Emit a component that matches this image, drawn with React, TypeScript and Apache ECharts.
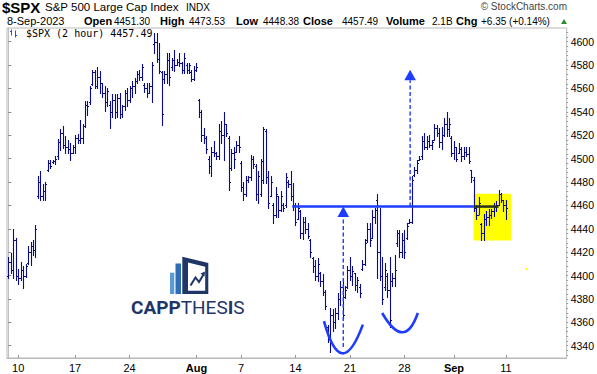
import React, { useEffect, useRef } from "react";
import * as echarts from "echarts";

// ---- price bars, [open, high, low, close] per 2-hour bar, in order ----
const barsJulEarly: number[][] = [
  [4400, 4416, 4398, 4412], [4412, 4419, 4402, 4405], [4405, 4440, 4398, 4430], [4430, 4432, 4396, 4400],
  [4400, 4406, 4393, 4398], [4398, 4412, 4396, 4405], [4405, 4408, 4389, 4400], [4400, 4410, 4399, 4408],
  [4411, 4425, 4410, 4420], [4420, 4429, 4409, 4425], [4425, 4430, 4418, 4422], [4422, 4443, 4416, 4440],
  [4468, 4485, 4466, 4480], [4480, 4489, 4465, 4468], [4468, 4478, 4465, 4472], [4472, 4480, 4465, 4478],
  [4490, 4499, 4489, 4496], [4496, 4499, 4492, 4494], [4497, 4499, 4496, 4498], [4498, 4502, 4495, 4500],
  [4502, 4517, 4500, 4514], [4514, 4525, 4507, 4522], [4522, 4528, 4509, 4512], [4512, 4519, 4505, 4510],
  [4510, 4516, 4505, 4508], [4508, 4513, 4499, 4505], [4505, 4512, 4505, 4510], [4510, 4520, 4505, 4518],
  [4518, 4521, 4513, 4516], [4516, 4533, 4513, 4518], [4518, 4530, 4513, 4528], [4528, 4549, 4527, 4546],
  [4546, 4549, 4537, 4545], [4548, 4562, 4547, 4560], [4564, 4576, 4563, 4574], [4574, 4576, 4560, 4562],
  [4562, 4578, 4560, 4570], [4570, 4575, 4556, 4565], [4565, 4565, 4553, 4556], [4556, 4562, 4541, 4548],
];
const barsJulLate: number[][] = [
  [4548, 4560, 4545, 4558], [4546, 4549, 4526, 4540], [4540, 4555, 4536, 4550], [4550, 4555, 4535, 4540],
  [4540, 4555, 4536, 4552], [4552, 4556, 4535, 4538], [4538, 4546, 4536, 4545], [4545, 4559, 4542, 4556],
  [4556, 4560, 4545, 4550], [4550, 4562, 4548, 4560], [4560, 4566, 4553, 4562], [4562, 4569, 4556, 4566],
  [4566, 4575, 4565, 4572], [4572, 4576, 4567, 4570], [4570, 4581, 4567, 4578], [4563, 4565, 4557, 4560],
  [4560, 4565, 4553, 4556], [4556, 4565, 4556, 4562], [4562, 4583, 4548, 4580], [4598, 4607, 4590, 4600],
  [4600, 4607, 4583, 4585], [4585, 4599, 4573, 4575], [4574, 4575, 4529, 4538], [4568, 4575, 4565, 4572],
  [4572, 4590, 4565, 4584], [4584, 4590, 4563, 4570], [4578, 4586, 4576, 4584], [4584, 4593, 4575, 4580],
  [4580, 4585, 4580, 4583], [4583, 4590, 4579, 4582], [4582, 4583, 4573, 4576], [4576, 4590, 4573, 4586],
  [4580, 4582, 4573, 4576], [4576, 4582, 4573, 4580], [4574, 4576, 4566, 4568], [4568, 4579, 4567, 4576],
  [4576, 4582, 4575, 4578], [4550, 4551, 4536, 4540], [4540, 4542, 4515, 4520], [4520, 4526, 4513, 4518],
];
const barsAugEarly: number[][] = [
  [4518, 4519, 4505, 4508], [4500, 4502, 4488, 4494], [4494, 4510, 4485, 4506], [4506, 4515, 4502, 4505],
  [4505, 4506, 4500, 4502], [4502, 4530, 4500, 4524], [4524, 4532, 4513, 4520], [4520, 4540, 4499, 4530],
  [4530, 4530, 4519, 4522], [4518, 4519, 4473, 4480], [4492, 4508, 4490, 4505], [4505, 4510, 4492, 4500],
  [4506, 4515, 4506, 4512], [4512, 4519, 4506, 4510], [4496, 4498, 4472, 4476], [4476, 4480, 4465, 4470],
  [4470, 4485, 4468, 4482], [4482, 4485, 4480, 4484], [4484, 4503, 4482, 4500], [4500, 4502, 4492, 4495],
  [4494, 4495, 4465, 4470], [4470, 4489, 4462, 4485], [4470, 4500, 4468, 4498], [4482, 4527, 4479, 4525],
  [4524, 4525, 4479, 4484], [4484, 4489, 4458, 4462], [4468, 4485, 4468, 4480], [4460, 4462, 4445, 4452],
  [4452, 4476, 4450, 4470], [4468, 4468, 4450, 4456], [4456, 4472, 4455, 4468], [4460, 4462, 4455, 4458],
  [4460, 4488, 4459, 4484], [4480, 4482, 4476, 4478], [4478, 4489, 4465, 4468], [4468, 4479, 4456, 4460],
  [4460, 4462, 4443, 4446], [4448, 4462, 4448, 4458], [4455, 4456, 4432, 4436], [4436, 4450, 4431, 4446],
];
const barsAugLate: number[][] = [
  [4446, 4450, 4436, 4440], [4440, 4445, 4432, 4434], [4430, 4431, 4416, 4420], [4415, 4416, 4403, 4408],
  [4408, 4413, 4396, 4400], [4400, 4415, 4395, 4410], [4402, 4403, 4391, 4395], [4395, 4401, 4383, 4386],
  [4386, 4388, 4371, 4374], [4356, 4358, 4343, 4346], [4346, 4372, 4335, 4366], [4366, 4371, 4353, 4360],
  [4360, 4372, 4355, 4368], [4368, 4385, 4363, 4380], [4380, 4395, 4375, 4390], [4390, 4396, 4362, 4366],
  [4382, 4391, 4381, 4388], [4390, 4408, 4389, 4405], [4405, 4416, 4396, 4400], [4400, 4408, 4392, 4404],
  [4402, 4402, 4388, 4392], [4392, 4399, 4386, 4396], [4390, 4393, 4382, 4385], [4406, 4413, 4405, 4410],
  [4410, 4431, 4409, 4428], [4430, 4445, 4429, 4440], [4440, 4445, 4425, 4430], [4432, 4456, 4432, 4450],
  [4450, 4458, 4445, 4456], [4465, 4470, 4398, 4420], [4420, 4458, 4396, 4400], [4400, 4416, 4376, 4380],
  [4390, 4411, 4388, 4405], [4400, 4402, 4382, 4388], [4388, 4416, 4356, 4362], [4395, 4402, 4391, 4398],
  [4398, 4418, 4391, 4405], [4428, 4439, 4425, 4436], [4436, 4439, 4416, 4420], [4420, 4436, 4416, 4430],
];
const barsSep: number[][] = [
  [4430, 4439, 4415, 4420], [4432, 4445, 4431, 4442], [4445, 4448, 4445, 4446], [4446, 4485, 4445, 4482],
  [4486, 4493, 4485, 4490], [4490, 4499, 4488, 4496], [4499, 4502, 4499, 4500], [4502, 4519, 4500, 4515],
  [4515, 4522, 4508, 4510], [4510, 4519, 4508, 4515], [4515, 4520, 4510, 4512], [4512, 4516, 4508, 4514],
  [4516, 4530, 4516, 4526], [4526, 4529, 4519, 4522], [4522, 4526, 4510, 4514], [4514, 4527, 4508, 4520],
  [4520, 4535, 4519, 4530], [4530, 4540, 4519, 4525], [4525, 4535, 4519, 4530], [4518, 4519, 4502, 4505],
  [4505, 4515, 4500, 4510], [4510, 4510, 4498, 4500], [4505, 4513, 4505, 4508], [4508, 4510, 4498, 4502],
  [4502, 4510, 4500, 4506], [4506, 4510, 4502, 4504], [4504, 4510, 4496, 4498], [4490, 4490, 4480, 4484],
  [4482, 4484, 4455, 4458], [4458, 4460, 4448, 4452], [4452, 4467, 4453, 4462], [4444, 4445, 4430, 4436],
  [4436, 4453, 4430, 4448], [4448, 4455, 4443, 4450], [4450, 4457, 4443, 4452], [4452, 4457, 4449, 4455],
  [4455, 4462, 4451, 4459], [4459, 4464, 4455, 4460], [4460, 4473.53, 4460, 4470], [4470, 4471, 4463, 4465],
  [4465, 4465, 4455, 4460], [4460, 4465, 4448.38, 4457.49],
];

// ---- axes ----
const xTickBars = [4, 27, 49, 76, 94, 116, 138, 160, 180, 201];
const xTickLabels = ["10", "17", "24", "Aug", "7", "14", "21", "28", "Sep", "11"];
const monthLabels = ["Aug", "Sep"];
const yTicks = [4340, 4360, 4380, 4400, 4420, 4440, 4460, 4480, 4500, 4520, 4540, 4560, 4580, 4600];
const yMin = 4329.5;
const yMax = 4611.7;
const slotCount = 226;

// ---- header quote ----
const quoteLabels = ["Open", "High", "Low", "Close", "Volume", "Chg"];
const quoteValues = ["4451.30", "4473.53", "4448.38", "4457.49", "2.1B", "+6.35 (+0.14%)"];

// ---- annotations (bar number, price) ----
const neckline = { fromBar: 114.7, darkFromBar: 187.9, toBar: 198, price: 4459 };
const targetArrows = [
  { bar: 135.3, fromPrice: 4339, toPrice: 4459 },
  { bar: 162.3, fromPrice: 4459, toPrice: 4576 },
];
const bottoms = [
  { left: [127.5, 4361], low: [134.9, 4333.5], right: [143.2, 4358] },
  { left: [151, 4368], low: [159.1, 4351.5], right: [165.4, 4368] },
];
const highlight = { fromBar: 187.9, toBar: 203.1, top: 4470, bottom: 4430 };

const BAR_COLOR = "#0a0a8a";
const ANNO_BLUE = "#1d3cff";
const FONT = "'Liberation Sans', Arial, sans-serif";

export default function App() {
  const ref = useRef<HTMLDivElement>(null);

  useEffect(() => {
    const chart = echarts.init(ref.current!, null, { renderer: "svg" });
    const bars = [...barsJulEarly, ...barsJulLate, ...barsAugEarly, ...barsAugLate, ...barsSep].map(
      (b, i) => [i, b[0], b[1], b[2], b[3]]
    );
    const minorTicks: number[] = [];
    for (let v = 4332; v <= 4610; v += 4) minorTicks.push(v);

    const ohlcRender = (params: any, api: any) => {
      const i = api.value(0);
      const o = api.coord([i, api.value(1)]);
      const h = api.coord([i, api.value(2)]);
      const l = api.coord([i, api.value(3)]);
      const c = api.coord([i, api.value(4)]);
      const x = Math.round(h[0]) + 0.5;
      const style = { stroke: BAR_COLOR, lineWidth: 1.1 };
      const oy = Math.round(o[1]) + 0.5;
      const cy = Math.round(c[1]) + 0.5;
      return {
        type: "group",
        children: [
          { type: "line", shape: { x1: x, y1: Math.round(h[1]), x2: x, y2: Math.round(l[1]) + 1 }, style },
          { type: "line", shape: { x1: x - 1.5, y1: oy, x2: x, y2: oy }, style },
          { type: "line", shape: { x1: x, y1: cy, x2: x + 1.5, y2: cy }, style },
        ],
      };
    };

    const highlightRender = (params: any, api: any) => {
      const a = api.coord([highlight.fromBar, highlight.top]);
      const b = api.coord([highlight.toBar, highlight.bottom]);
      return {
        type: "rect",
        shape: { x: a[0], y: a[1], width: b[0] - a[0], height: b[1] - a[1] },
        style: { fill: "#ffff00" },
      };
    };

    const annoRender = (params: any, api: any) => {
      const children: any[] = [];
      const n1 = api.coord([neckline.fromBar, neckline.price]);
      const n2 = api.coord([neckline.darkFromBar, neckline.price]);
      const n3 = api.coord([neckline.toBar, neckline.price]);
      children.push({ type: "line", shape: { x1: n1[0], y1: n1[1], x2: n2[0], y2: n2[1] }, style: { stroke: ANNO_BLUE, lineWidth: 2.5 } });
      children.push({ type: "line", shape: { x1: n2[0], y1: n2[1], x2: n3[0], y2: n3[1] }, style: { stroke: "#23301c", lineWidth: 2.5 } });
      targetArrows.forEach((ar) => {
        const p0 = api.coord([ar.bar, ar.fromPrice]);
        const p1 = api.coord([ar.bar, ar.toPrice]);
        const base = p1[1] + 10.5;
        children.push({ type: "line", shape: { x1: p0[0], y1: p0[1], x2: p0[0], y2: base }, style: { stroke: ANNO_BLUE, lineWidth: 1.4, lineDash: [4, 2.5] } });
        children.push({ type: "polygon", shape: { points: [[p1[0] - 5.8, base], [p1[0] + 5.8, base], [p1[0], p1[1]]] }, style: { fill: ANNO_BLUE } });
      });
      bottoms.forEach((u) => {
        const a = api.coord(u.left);
        const m = api.coord(u.low);
        const b = api.coord(u.right);
        const cx = 2 * m[0] - (a[0] + b[0]) / 2;
        const cy = 2 * m[1] - (a[1] + b[1]) / 2;
        children.push({ type: "bezierCurve", shape: { x1: a[0], y1: a[1], x2: b[0], y2: b[1], cpx1: cx, cpy1: cy }, style: { stroke: ANNO_BLUE, lineWidth: 2.6, fill: "none" } });
      });
      return { type: "group", children };
    };

    const headerTexts: any[] = [];
    const quoteX = [84, 160, 236, 303, 386, 456];
    const valueX = [114, 189, 263, 342, 432, 481];
    quoteLabels.forEach((lab, k) => {
      headerTexts.push({ type: "text", x: quoteX[k], y: 21, style: { text: lab, font: `bold 11px ${FONT}`, fill: "#000", textVerticalAlign: "middle" } });
      headerTexts.push({ type: "text", x: valueX[k], y: 21, style: { text: quoteValues[k], font: `10px ${FONT}`, fill: "#000", textVerticalAlign: "middle" } });
    });

    chart.setOption({
      animation: false,
      backgroundColor: "#ffffff",
      grid: { left: 7, right: 29, top: 28, bottom: 16, show: true, borderColor: "#b8b8b8", borderWidth: 1 },
      xAxis: {
        type: "value",
        min: -0.5,
        max: slotCount - 0.5,
        splitLine: { show: false },
        axisLine: { show: true, onZero: false, lineStyle: { color: "#b8b8b8" } },
        axisTick: { show: true, inside: true, length: 3, customValues: xTickBars, lineStyle: { color: "#999" } },
        axisLabel: {
          customValues: xTickBars,
          margin: 4,
          color: "#000",
          fontSize: 11,
          fontFamily: FONT,
          formatter: (v: number) => {
            const k = xTickBars.indexOf(Math.round(v));
            const t = k >= 0 ? xTickLabels[k] : "";
            return monthLabels.includes(t) ? `{m|${t}}` : t;
          },
          rich: { m: { fontWeight: "bold", fontSize: 11, fontFamily: FONT, color: "#000" } },
        },
      },
      yAxis: [
        {
          type: "value",
          position: "right",
          min: yMin,
          max: yMax,
          splitLine: { show: false },
          axisLine: { show: true, lineStyle: { color: "#c0c0c0" } },
          axisTick: { show: true, length: 3, customValues: yTicks, lineStyle: { color: "#888" } },
          axisLabel: {
            customValues: yTicks,
            margin: 4,
            color: "#000",
            fontSize: 10.5,
            fontFamily: FONT,
            formatter: (v: number) => String(Math.round(v)),
          },
        },
        {
          type: "value",
          position: "right",
          min: yMin,
          max: yMax,
          splitLine: { show: false },
          axisLine: { show: false },
          axisLabel: { show: false },
          axisTick: { show: true, length: 1.5, customValues: minorTicks, lineStyle: { color: "#999" } },
        },
      ],
      series: [
        { type: "custom", z: 1, silent: true, data: [[0]], renderItem: highlightRender, encode: { x: 0 } },
        { type: "custom", z: 2, silent: true, data: bars, renderItem: ohlcRender, encode: { x: 0, y: [1, 2, 3, 4] } },
        { type: "custom", z: 3, silent: true, data: [[0]], renderItem: annoRender, encode: { x: 0 } },
      ],
      graphic: [
        { type: "text", x: 2, y: 7, style: { text: "$SPX", font: `bold 15px ${FONT}`, fill: "#000", textVerticalAlign: "middle" } },
        { type: "text", x: 45, y: 7, style: { text: "S&P 500 Large Cap Index", font: `11.5px ${FONT}`, fill: "#000", textVerticalAlign: "middle" } },
        { type: "text", x: 186, y: 7, style: { text: "INDX", font: `10px ${FONT}`, fill: "#000", textVerticalAlign: "middle" } },
        { type: "text", x: 567, y: 6, style: { text: "© StockCharts.com", font: `10px ${FONT}`, fill: "#444", textAlign: "right", textVerticalAlign: "middle" } },
        { type: "text", x: 7, y: 21, style: { text: "8-Sep-2023", font: `11px ${FONT}`, fill: "#000", textVerticalAlign: "middle" } },
        ...headerTexts,
        { type: "polygon", shape: { points: [[561, 24], [567, 24], [564, 19]] }, style: { fill: "#2e8b2e" } },
        { type: "line", shape: { x1: 11.5, y1: 29.5, x2: 11.5, y2: 35.5 }, style: { stroke: "#2a4fd8", lineWidth: 1 } },
        { type: "line", shape: { x1: 10, y1: 31.5, x2: 11.5, y2: 31.5 }, style: { stroke: "#2a4fd8", lineWidth: 1 } },
        { type: "line", shape: { x1: 15.5, y1: 30.5, x2: 15.5, y2: 37.5 }, style: { stroke: "#2a4fd8", lineWidth: 1 } },
        { type: "line", shape: { x1: 15.5, y1: 35.5, x2: 17, y2: 35.5 }, style: { stroke: "#2a4fd8", lineWidth: 1 } },
        { type: "text", x: 26, y: 33.5, style: { text: "$SPX (2 hour) 4457.49", font: `10px 'DejaVu Sans Mono', monospace`, fill: "#000", textVerticalAlign: "middle" } },
        // logo
        { type: "rect", shape: { x: 170, y: 272.7, width: 4.3, height: 21.3 }, style: { fill: "#5b9bd5" } },
        { type: "rect", shape: { x: 175.5, y: 263.5, width: 5.5, height: 30.5 }, style: { fill: "#2e6cb4" } },
        { type: "polygon", shape: { points: [[182.3, 256.7], [208.3, 263], [208.3, 294], [182.3, 294]] }, style: { fill: "#1f3566" } },
        { type: "polygon", shape: { points: [[188, 262.5], [205.2, 266.7], [205.2, 290.8], [188, 290.8]] }, style: { fill: "#ffffff" } },
        { type: "polyline", shape: { points: [[190.5, 285.5], [195.5, 277.5], [199, 282], [203.5, 274.5]] }, style: { stroke: "#1f3566", lineWidth: 2, fill: "none" } },
        { type: "polygon", shape: { points: [[200.5, 273.5], [205, 271.5], [204.5, 276.5]] }, style: { fill: "#1f3566" } },
        {
          type: "text", x: 131, y: 307.5,
          style: {
            text: "{b|CAPP}{r|THES}{b|I}{r|S}",
            textVerticalAlign: "middle",
            rich: {
              b: { font: "bold 19px Roboto, sans-serif", fill: "#1f3566" },
              r: { font: "19px Roboto, sans-serif", fill: "#1f3566" },
            },
          },
        },
        { type: "rect", shape: { x: 525.5, y: 268, width: 2, height: 2 }, style: { fill: "#ffff00" } },
      ],
    });
    return () => chart.dispose();
  }, []);

  return <div ref={ref} style={{ position: "absolute", left: 0, top: 0, width: 597, height: 374 }} />;
}
